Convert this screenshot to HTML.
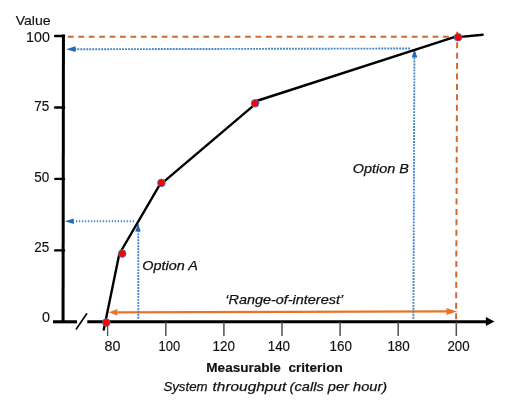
<!DOCTYPE html>
<html><head><meta charset="utf-8">
<style>
html,body{margin:0;padding:0;background:#fff;width:511px;height:404px;overflow:hidden}
svg{display:block;will-change:transform}
text{font-family:"Liberation Sans",sans-serif;fill:#111;stroke:#111;stroke-width:0.15;white-space:pre}
text.s{stroke:#111;stroke-width:0.25}
</style></head>
<body>
<svg width="511" height="404" viewBox="0 0 511 404">
<!-- orange dashed -->
<line x1="67.9" y1="36.8" x2="452" y2="36.8" stroke="#CC6C30" stroke-width="2" stroke-dasharray="5.8 4.62"/>
<line x1="457.2" y1="31.8" x2="456.1" y2="319.5" stroke="#CC6C30" stroke-width="2" stroke-dasharray="6 4.42"/>
<!-- orange solid arrow -->
<line x1="116" y1="312.35" x2="448" y2="311.45" stroke="#EA7328" stroke-width="2.2"/>
<path d="M108.7,312.3 L117.6,308.9 L116.9,312.3 L117.6,315.7 Z" fill="#EA7328"/>
<path d="M457.1,311.4 L446.2,307.9 L446.9,311.4 L446.2,314.9 Z" fill="#EA7328"/>
<!-- blue dotted -->
<g stroke="#4585C8" stroke-width="1.9" stroke-dasharray="1.9 1.08">
<line x1="74.4" y1="49.25" x2="411" y2="48.5"/>
<line x1="76.0" y1="221.2" x2="134.5" y2="221.2" stroke-dasharray="1.3 1.68"/>
<line x1="138.3" y1="224.45" x2="138.3" y2="319"/>
<line x1="414.4" y1="54.57" x2="413.4" y2="319"/>
</g>
<g fill="#2468B2">
<path d="M66,49.2 L75.6,46.35 L75.6,52.05 Z"/>
<path d="M64.8,221.2 L73.8,218.4 L73.8,224 Z"/>
<path d="M138,223.9 L135.2,231.6 L140.8,231.6 Z"/>
<path d="M414.5,49 L411.7,57.5 L417.3,57.5 Z"/>
</g>
<!-- axes -->
<line x1="63.45" y1="34.5" x2="63.05" y2="323" stroke="#000" stroke-width="3"/>
<line x1="55.1" y1="36" x2="64" y2="36" stroke="#000" stroke-width="2.4" stroke-linecap="round"/>
<line x1="55.1" y1="107.45" x2="64" y2="107.45" stroke="#000" stroke-width="2.4" stroke-linecap="round"/>
<line x1="55.3" y1="178.9" x2="64" y2="178.9" stroke="#000" stroke-width="2.4" stroke-linecap="round"/>
<line x1="55.1" y1="250.4" x2="64" y2="250.4" stroke="#000" stroke-width="2.4" stroke-linecap="round"/>
<line x1="53" y1="321.8" x2="77" y2="321.8" stroke="#000" stroke-width="3.1"/>
<line x1="76.3" y1="329" x2="86.7" y2="313.8" stroke="#000" stroke-width="1.6" stroke-linecap="round"/>
<line x1="87.3" y1="321.8" x2="487" y2="321.7" stroke="#000" stroke-width="3.1"/>
<path d="M494.5,321.5 L485.9,316.9 L485.9,326.1 Z" fill="#000"/>
<!-- x ticks -->
<g stroke="#505050" stroke-width="1.5">
<line x1="165.8" y1="322" x2="165.8" y2="336"/>
<line x1="223.9" y1="322" x2="223.9" y2="336"/>
<line x1="282" y1="322" x2="282" y2="336"/>
<line x1="340.1" y1="322" x2="340.1" y2="336"/>
<line x1="398.2" y1="322" x2="398.2" y2="336"/>
<line x1="456.3" y1="322" x2="456.3" y2="336"/>
</g>
<!-- curve -->
<polyline points="103.8,329.6 119.3,254 159.2,185.7 253.5,105.7 256.5,101.0 458.1,35.9 458.1,37.1 482.7,34.7" fill="none" stroke="#000" stroke-width="2.4" stroke-linejoin="round" stroke-linecap="round"/>
<!-- dots -->
<g fill="#FF0000" stroke="#4a6fa8" stroke-width="0.9">
<circle cx="106.3" cy="322.5" r="3.8"/>
<circle cx="122.2" cy="253.6" r="3.8"/>
<circle cx="161.4" cy="182.9" r="3.8"/>
<circle cx="255.1" cy="103.3" r="3.8"/>
<circle cx="458.05" cy="37.25" r="3.8"/>
</g>
<line x1="107.6" y1="321.5" x2="107.6" y2="336" stroke="#505050" stroke-width="1.3"/>
<!-- labels -->
<text x="15.7" y="24.6" font-size="13.4" textLength="34.9" lengthAdjust="spacingAndGlyphs">Value</text>
<text x="26.1" y="42.4" font-size="14" textLength="23.8" lengthAdjust="spacingAndGlyphs">100</text>
<text x="34.2" y="111" font-size="14" textLength="15" lengthAdjust="spacingAndGlyphs">75</text>
<text x="34.2" y="181.6" font-size="14" textLength="15" lengthAdjust="spacingAndGlyphs">50</text>
<text x="34.2" y="251.8" font-size="14" textLength="15" lengthAdjust="spacingAndGlyphs">25</text>
<text x="42" y="322.3" font-size="14" textLength="8" lengthAdjust="spacingAndGlyphs">0</text>
<text x="104.5" y="351.2" font-size="14" textLength="15.9" lengthAdjust="spacingAndGlyphs">80</text>
<text x="158.5" y="351.2" font-size="14" textLength="21.6" lengthAdjust="spacingAndGlyphs">100</text>
<text x="212.6" y="351.2" font-size="14" textLength="22.4" lengthAdjust="spacingAndGlyphs">120</text>
<text x="267.7" y="351.2" font-size="14" textLength="22.4" lengthAdjust="spacingAndGlyphs">140</text>
<text x="329.6" y="351.2" font-size="14" textLength="22.4" lengthAdjust="spacingAndGlyphs">160</text>
<text x="387.4" y="351.2" font-size="14" textLength="22.4" lengthAdjust="spacingAndGlyphs">180</text>
<text x="447.4" y="351.2" font-size="14" textLength="22.2" lengthAdjust="spacingAndGlyphs">200</text>
<text class="s" x="142.2" y="269.5" font-size="13" font-style="italic" textLength="55.6" lengthAdjust="spacingAndGlyphs">Option A</text>
<text class="s" x="352.8" y="173.1" font-size="13" font-style="italic" textLength="56.2" lengthAdjust="spacingAndGlyphs">Option B</text>
<text class="s" x="225.3" y="303.8" font-size="13" font-style="italic" textLength="117.8" lengthAdjust="spacingAndGlyphs">‘Range-of-interest’</text>
<text x="206.3" y="371.6" font-size="13.4" font-weight="bold" textLength="136.4" lengthAdjust="spacingAndGlyphs">Measurable  criterion</text>
<text class="s" x="163.4" y="390.7" font-size="13" font-style="italic" textLength="44.2" lengthAdjust="spacingAndGlyphs">System</text>
<text class="s" x="212.6" y="390.7" font-size="13" font-style="italic" textLength="73.6" lengthAdjust="spacingAndGlyphs">throughput</text>
<text class="s" x="289.6" y="390.7" font-size="13" font-style="italic" textLength="97.6" lengthAdjust="spacingAndGlyphs">(calls per hour)</text>
</svg>
</body></html>
